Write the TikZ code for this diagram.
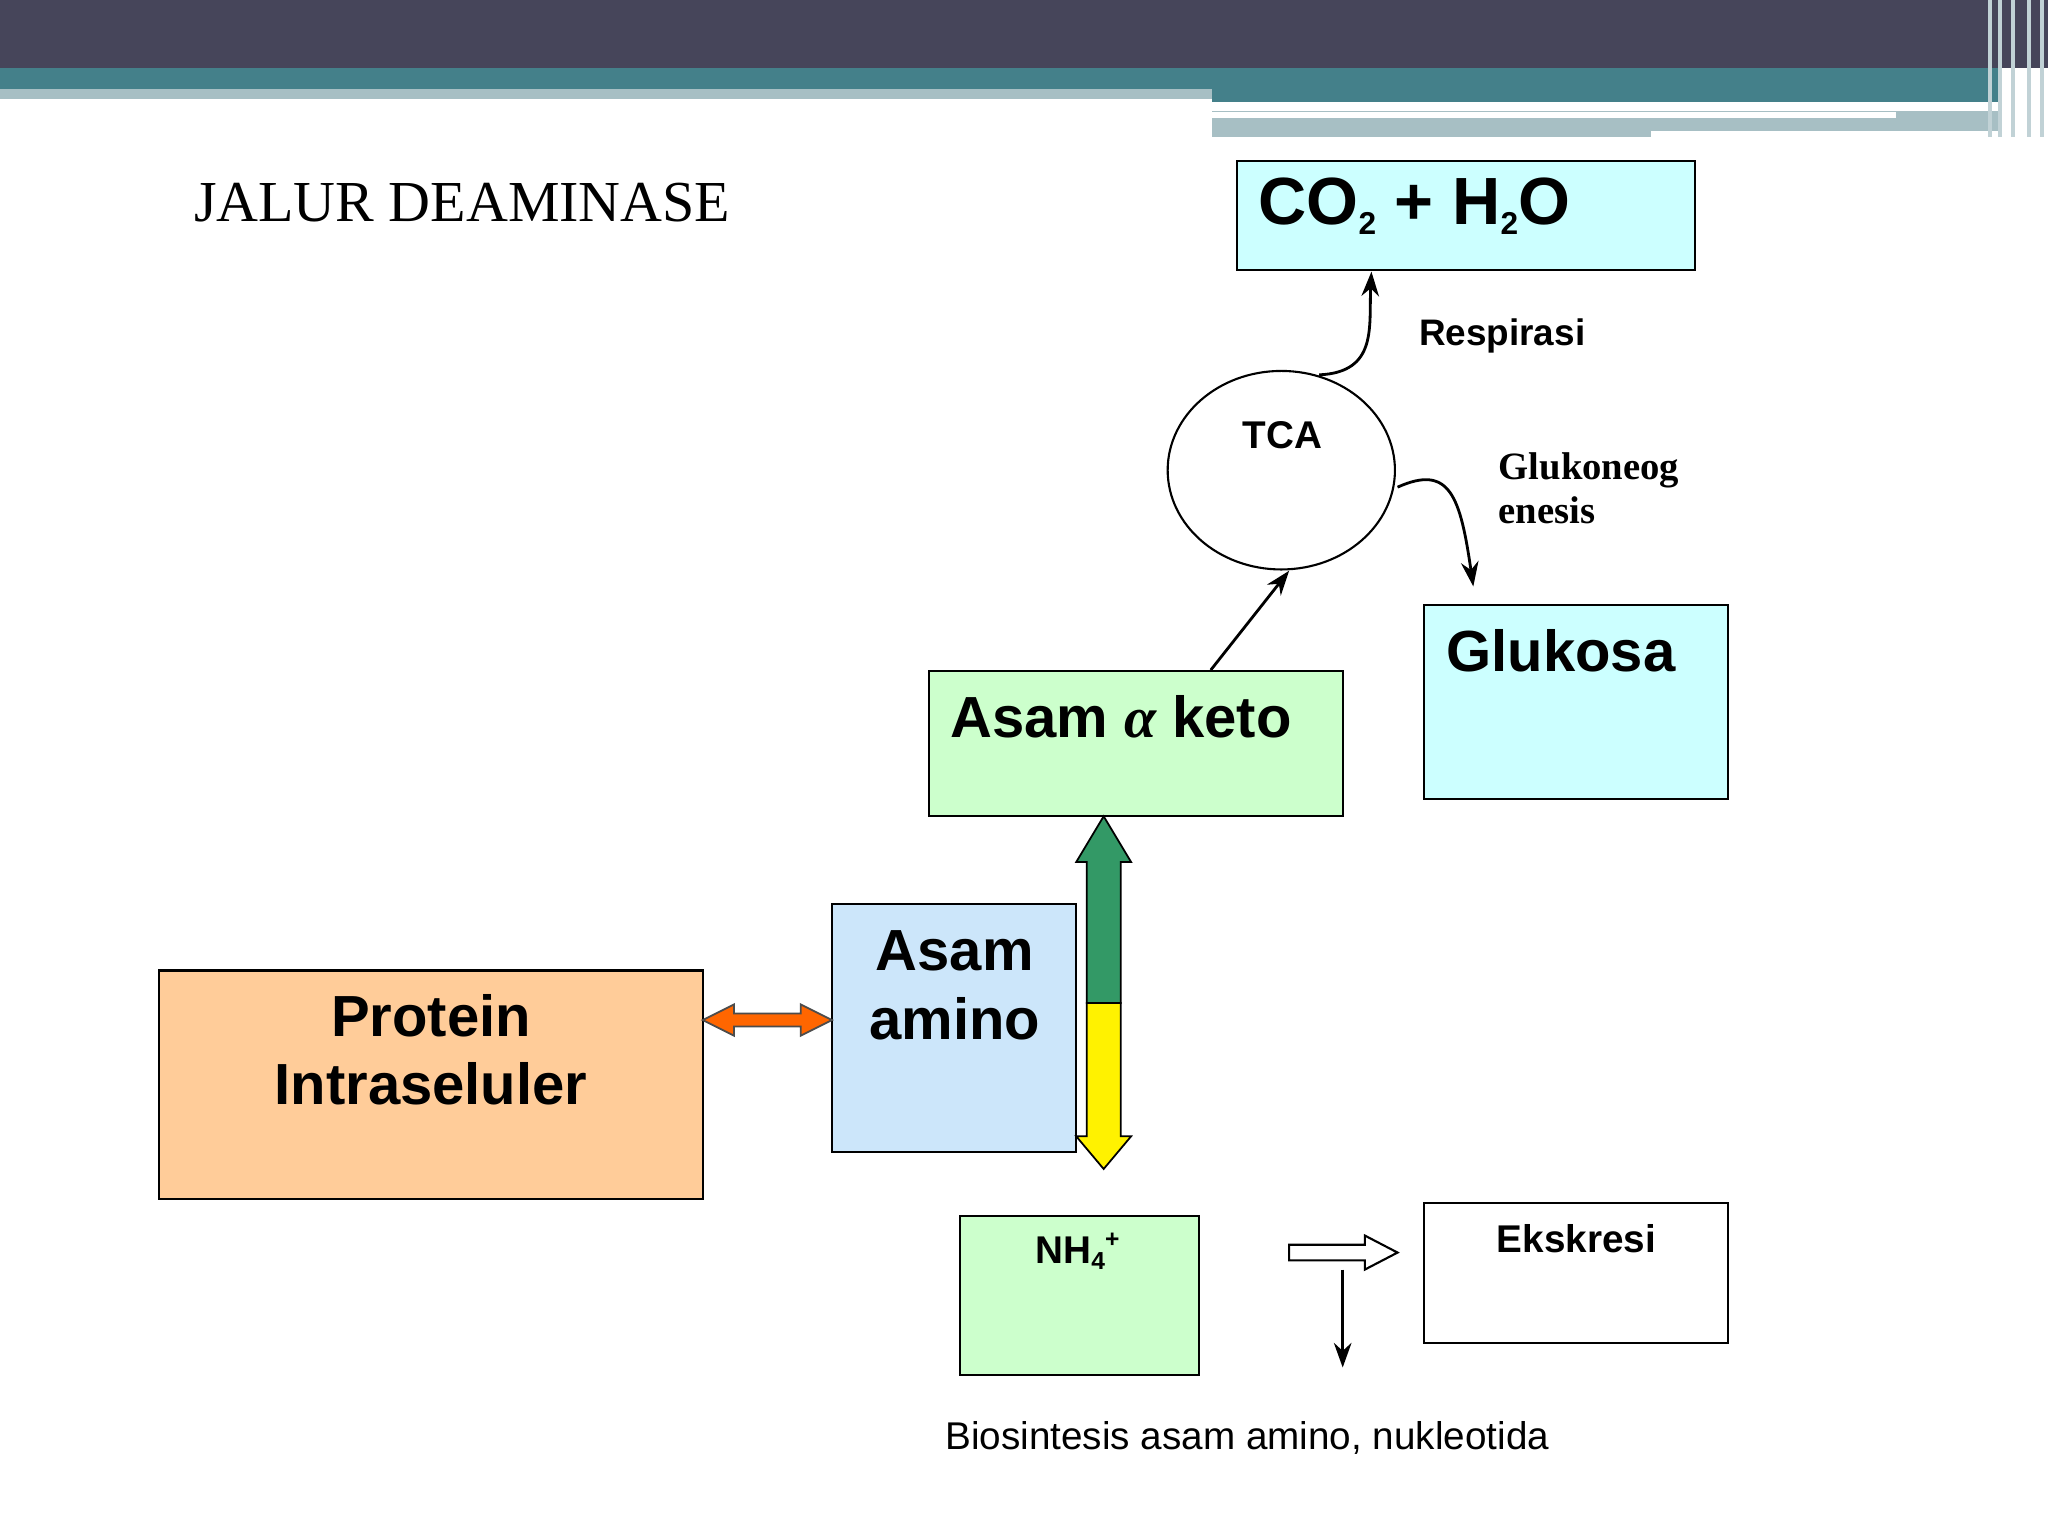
\documentclass[tikz,border=0pt]{standalone}
\usepackage{fontspec}
\setmainfont{Liberation Sans}
\newfontfamily\serif{Liberation Serif}
\usetikzlibrary{shapes.geometric,arrows.meta}
\definecolor{dark}{HTML}{46455A}
\definecolor{teal}{HTML}{44808A}
\definecolor{lteal}{HTML}{A7BFC4}
\definecolor{cyanf}{HTML}{CCFFFF}
\definecolor{greenf}{HTML}{CCFFCC}
\definecolor{bluef}{HTML}{CCE6FA}
\definecolor{orangef}{HTML}{FFCC99}
\definecolor{orangea}{HTML}{FF6600}
\definecolor{garrow}{HTML}{339966}
\begin{document}
\begin{tikzpicture}[x=0.01306cm,y=-0.01306cm,
  box/.style={draw,line width=0.6pt,inner sep=0pt},
  lbl/.style={font=\bfseries,inner sep=0pt,anchor=west},
  arr/.style={-{Stealth[length=7pt,width=5pt]},line width=0.8pt}]
\useasboundingbox (0,0) rectangle (1568,1176);
\fill[white] (0,0) rectangle (1568,1176);
% banner
\fill[dark] (0,0) rectangle (1568,52);
\fill[teal] (0,52) rectangle (1530,68);
\fill[lteal] (0,68) rectangle (928,76);
\fill[teal] (928,68) rectangle (1530,78);
\fill[lteal] (928,85) rectangle (1530,105);
\fill[white] (928,86) rectangle (1452,90);
\fill[white] (1264,100) rectangle (1530,105);
\foreach \x in {1522,1530,1540,1552,1562}{\fill[lteal!70] (\x,0) rectangle (\x+3,105);}
% title
\node[font=\serif\fontsize{16.5}{18}\selectfont,anchor=west,inner sep=0pt] (title) at (148,155) {JALUR DEAMINASE};
% boxes
\node[box,fill=cyanf,minimum width=351*0.01306cm,minimum height=84*0.01306cm] (co2) at (1122.5,165) {};
\node[lbl,font=\bfseries\fontsize{19}{21}\selectfont] (co2t) at (963,158) {CO\raisebox{-0.3ex}{\small 2} + H\raisebox{-0.3ex}{\small 2}O};
\node[draw,ellipse,line width=0.6pt,minimum width=174*0.01306cm,minimum height=152*0.01306cm] (tca) at (981,360) {};
\node[font=\bfseries\fontsize{11}{12}\selectfont,inner sep=0pt] (tcat) at (982,333) {TCA};
\node[lbl,font=\bfseries\fontsize{10.5}{12}\selectfont] (resp) at (1086,257) {Respirasi};
\node[lbl,font=\serif\bfseries\fontsize{11}{12}\selectfont] (gl1) at (1147,360) {Glukoneog};
\node[lbl,font=\serif\bfseries\fontsize{11}{12}\selectfont] (gl2) at (1147,391) {enesis};
\node[box,fill=cyanf,minimum width=233*0.01306cm,minimum height=149*0.01306cm] (glu) at (1206.5,537.5) {};
\node[lbl,font=\bfseries\fontsize{16.5}{18}\selectfont] (glut) at (1107,498) {Glukosa};
\node[box,fill=greenf,minimum width=317*0.01306cm,minimum height=111*0.01306cm] (keto) at (869.5,569.5) {};
\node[lbl,font=\bfseries\fontsize{16.5}{18}\selectfont] (ketot) at (727,549) {Asam {\serif\itshape α} keto};
\node[box,fill=bluef,minimum width=187*0.01306cm,minimum height=190*0.01306cm] (amino) at (730.5,787) {};
\node[font=\bfseries\fontsize{16.5}{18}\selectfont,inner sep=0pt] (am1) at (731,728) {Asam};
\node[font=\bfseries\fontsize{16.5}{18}\selectfont,inner sep=0pt] (am2) at (731,780) {amino};
\node[box,fill=orangef,minimum width=416*0.01306cm,minimum height=175*0.01306cm] (prot) at (330,830.5) {};
\node[font=\bfseries\fontsize{16.5}{18}\selectfont,inner sep=0pt] (pr1) at (330,778) {Protein};
\node[font=\bfseries\fontsize{16.5}{18}\selectfont,inner sep=0pt] (pr2) at (330,830) {Intraseluler};
\node[box,fill=greenf,minimum width=183*0.01306cm,minimum height=122*0.01306cm] (nh) at (826.5,992) {};
\node[font=\bfseries\fontsize{11}{12}\selectfont,inner sep=0pt] (nht) at (825,958) {NH\raisebox{-0.3ex}{\scriptsize 4}\raisebox{0.8ex}{\scriptsize +}};
\node[box,fill=white,minimum width=233*0.01306cm,minimum height=107*0.01306cm] (eks) at (1206.5,974.5) {};
\node[font=\bfseries\fontsize{11}{12}\selectfont,inner sep=0pt] (ekst) at (1207,948) {Ekskresi};
\node[font=\fontsize{11}{12}\selectfont,inner sep=0pt] (bio) at (955,1101) {Biosintesis asam amino, nukleotida};
% connectors
\coordinate (r0) at (1010,287);
\coordinate (r1) at (1050,208);
\draw[arr] (r0) .. controls (1055,285) and (1048,250) .. (r1);
\coordinate (g0) at (1070,373);
\coordinate (g1) at (1128,449);
\draw[arr] (g0) .. controls (1110,355) and (1118,380) .. (g1);
\coordinate (k0) at (927,513);
\coordinate (k1) at (987,437);
\draw[arr] (k0) -- (k1);
% orange double arrow
\draw[fill=orangea,draw=black!70,line width=0.5pt]
 (538,781) -- (562,769) -- (562,776) -- (613,776) -- (613,769) -- (637,781) -- (613,793) -- (613,786) -- (562,786) -- (562,793) -- cycle;
% green up / yellow down
\draw[fill=garrow,line width=0.5pt] (832,768) -- (832,660) -- (824,660) -- (845,625) -- (866,660) -- (858,660) -- (858,768) -- cycle;
\draw[fill=yellow,line width=0.5pt] (832,768) -- (832,870) -- (824,870) -- (845,895) -- (866,870) -- (858,870) -- (858,768) -- cycle;
% hollow arrow
\draw[fill=white,line width=0.6pt] (987,953) -- (1045,953) -- (1045,946) -- (1070,959) -- (1045,972) -- (1045,965) -- (987,965) -- cycle;
\coordinate (v0) at (1028,972);
\coordinate (v1) at (1028,1047);
\draw[arr] (v0) -- (v1);
\end{tikzpicture}
\end{document}
